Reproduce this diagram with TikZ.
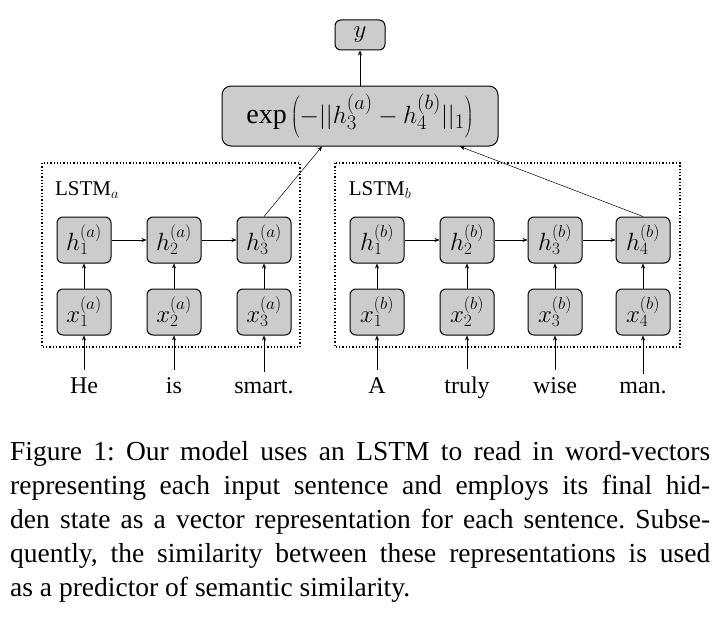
\documentclass[tikz,border=0pt]{standalone}
\usepackage{fontspec}
\setmainfont{Liberation Serif}
\usetikzlibrary{arrows.meta}
\frenchspacing
\begin{document}
\begin{tikzpicture}[x=1pt,y=-1pt,
 bx/.style={draw,line width=1pt,fill=black!20,rounded corners=6pt,minimum width=54pt,minimum height=46pt,inner sep=1pt,font=\fontsize{26}{30}\selectfont},
 ar/.style={-{Stealth[length=5pt,width=4pt]},line width=0.5pt},
 wd/.style={font=\fontsize{24}{28}\selectfont,anchor=base},
 dot/.style={dotted,line width=1.3pt}]
\useasboundingbox (0,0) rectangle (720,618);
\node[bx,minimum width=50pt,minimum height=30pt] (y) at (360,35) {$y$};
\node[bx,minimum width=276pt,minimum height=60pt,rounded corners=9pt,font=\fontsize{28}{32}\selectfont] (e) at (360,116) {$\exp\left(-||h_3^{(a)}-h_4^{(b)}||_1\right)$};
\draw[dot] (42,163) rectangle (300,347);
\draw[dot] (335,163) rectangle (680,347);
\node[font=\fontsize{21}{24}\selectfont] (la) at (87,190) {LSTM$_a$};
\node[font=\fontsize{21}{24}\selectfont] (lb) at (380,190) {LSTM$_b$};
\foreach \n/\i/\s/\xx/\w in {a1/1/a/84/He,a2/2/a/174/is,a3/3/a/264/smart.,b1/1/b/377/A,b2/2/b/467/truly,b3/3/b/555/wise,b4/4/b/643/man.}{
 \node[bx] (h\n) at (\xx,240) {$h_\i^{(\s)}$};
 \node[bx] (x\n) at (\xx,312) {$x_\i^{(\s)}$};
 \node[wd] (w\n) at (\xx,393) {\w};
 \draw[ar] (w\n.north) ++(0,-4) coordinate (c\n) -- (x\n);
 \draw[ar] (x\n) -- (h\n);
}
\draw[ar] (ha1)--(ha2); \draw[ar] (ha2)--(ha3);
\draw[ar] (hb1)--(hb2); \draw[ar] (hb2)--(hb3); \draw[ar] (hb3)--(hb4);
\draw[ar] (ha3.north) -- (e.south -| 322,0);
\draw[ar] (hb4.north) -- (e.south -| 460,0);
\draw[ar] (e) -- (y);
\node[anchor=north west,text width=700pt,align=justify,inner sep=0pt,font=\fontsize{27.5}{34}\selectfont] (cap) at (10,441) {Figure 1: Our model uses an LSTM to read in word-vectors\linebreak representing each input sentence and employs its final hid-\linebreak den state as a vector representation for each sentence. Subse-\linebreak quently, the similarity between these representations is used\linebreak as a predictor of semantic similarity.};
\end{tikzpicture}
\end{document}
